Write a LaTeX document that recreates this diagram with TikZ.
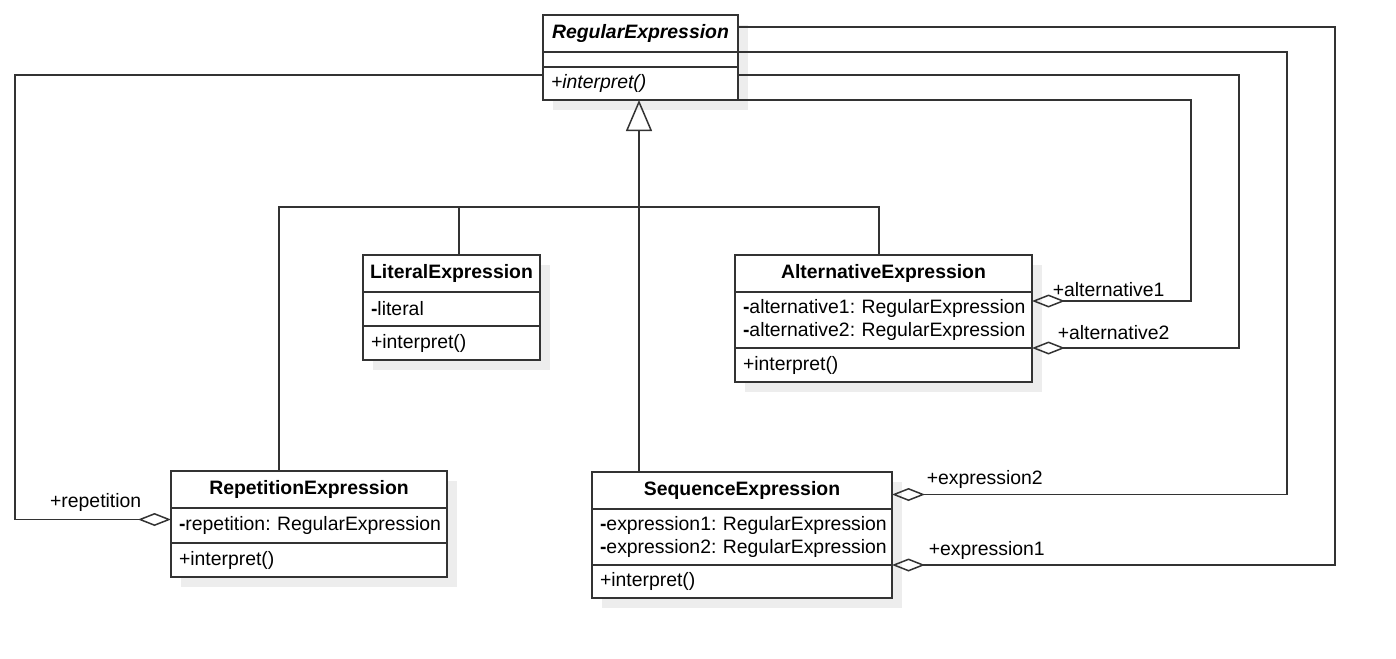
\documentclass[tikz,border=0pt]{standalone}
\usepackage{fontspec}
\setmainfont{Liberation Sans}
\usetikzlibrary{positioning,shadows,arrows.meta}

\newcommand\umlfont{\fontsize{19.4pt}{23pt}\selectfont\frenchspacing}

\tikzset{
  cls/.style={draw=black!80, fill=white, line width=1.5pt, inner sep=0pt, outer sep=0pt,
    drop shadow={shadow xshift=10pt, shadow yshift=-10pt, fill=black!7, draw=none, opacity=1}},
  clsname/.style={cls, minimum width=#1, minimum height=37pt, align=center, font=\umlfont\bfseries},
  clspart/.style 2 args={cls, text width=#1, inner xsep=8pt, minimum height=#2, align=left, font=\umlfont},
  conn/.style={draw=black!80, line width=1.5pt},
  aggr/.style={conn, -{Diamond[open, length=33pt, width=13pt]}},
  gen/.style={conn, -{Triangle[open, length=31pt, width=26pt]}},
  role/.style={inner sep=0pt, anchor=base west, font=\umlfont},
}

\begin{document}
\begin{tikzpicture}[x=1pt,y=-1pt]
    \useasboundingbox (0,0) rectangle (1396,658);

    % abstract base class
    \node[clsname=195pt, anchor=north west, font=\umlfont\bfseries\itshape] (reg) at (543,15) {RegularExpression};
    \node[clspart={179pt}{15pt}, below=0pt of reg] (reg-a) {};
    \node[clspart={179pt}{33pt}, below=0pt of reg-a, font=\umlfont\itshape] (reg-m) {+interpret()};

    % literal
    \node[clsname=177pt, anchor=north west] (lit) at (363,255) {LiteralExpression};
    \node[clspart={161pt}{34pt}, below=0pt of lit] (lit-a) {\textbf{-}literal};
    \node[clspart={161pt}{34pt}, below=0pt of lit-a] (lit-m) {+interpret()};

    % alternative
    \node[clsname=297pt, anchor=north west] (alt) at (735,255) {AlternativeExpression};
    \node[clspart={281pt}{56pt}, below=0pt of alt] (alt-a)
        {\mbox{\textbf{-}alternative1: RegularExpression}\\\mbox{\textbf{-}alternative2: RegularExpression}};
    \node[clspart={281pt}{34pt}, below=0pt of alt-a] (alt-m) {+interpret()};

    % repetition
    \node[clsname=276pt, anchor=north west] (rep) at (171,471) {RepetitionExpression};
    \node[clspart={260pt}{35pt}, below=0pt of rep] (rep-a) {\mbox{\textbf{-}repetition: RegularExpression}};
    \node[clspart={260pt}{34pt}, below=0pt of rep-a] (rep-m) {+interpret()};

    % sequence
    \node[clsname=300pt, anchor=north west] (seq) at (592,472) {SequenceExpression};
    \node[clspart={284pt}{56pt}, below=0pt of seq] (seq-a)
        {\mbox{\textbf{-}expression1: RegularExpression}\\\mbox{\textbf{-}expression2: RegularExpression}};
    \node[clspart={284pt}{33pt}, below=0pt of seq-a] (seq-m) {+interpret()};

    % generalisation
    \coordinate (bus) at (639,207);
    \draw[gen] (bus |- seq.north) -- (bus |- reg-m.south);
    \draw[conn] ([xshift=-30pt]rep.north) |- (bus);
    \draw[conn] ([xshift=7.5pt]lit.north) |- (bus);
    \draw[conn] ([xshift=-4.5pt]alt.north) |- (bus);

    % aggregations back to the base class
    \draw[aggr] ([yshift=8.5pt]reg-m.west) -- ++(-528,0) |- ([yshift=6pt]rep-a.west)
        node[role, anchor=base east, xshift=-29pt, yshift=12pt] {+repetition};
    \draw[aggr] (reg-m.south east) -- ++(453,0) |- ([yshift=19pt]alt-a.east)
        node[role, xshift=20pt, yshift=5pt] {+alternative1};
    \draw[aggr] ([yshift=8.5pt]reg-m.east) -- ++(501,0) |- (alt-a.south east)
        node[role, xshift=25pt, yshift=9pt] {+alternative2};
    \draw[aggr] (reg.south east) -- ++(549,0) |- ([yshift=-4pt]seq.east)
        node[role, xshift=34pt, yshift=10pt] {+expression2};
    \draw[aggr] ([yshift=6.5pt]reg.east) -- ++(597,0) |- (seq-a.south east)
        node[role, xshift=36pt, yshift=10pt] {+expression1};
\end{tikzpicture}
\end{document}
